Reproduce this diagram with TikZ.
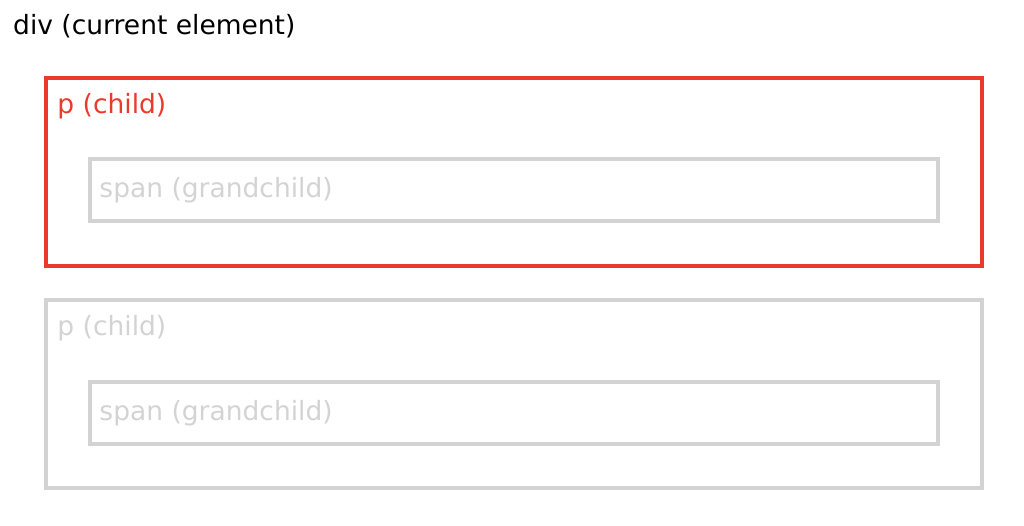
\documentclass[tikz,border=0pt]{standalone}
\usepackage{fontspec}
\setmainfont{DejaVu Sans}
\usetikzlibrary{positioning}
\definecolor{childred}{HTML}{EA3A2C}
\definecolor{fadegray}{HTML}{D3D3D3}

\begin{document}
\begin{tikzpicture}[x = 1pt, y = -1pt, font = \fontsize{26.5}{31}\selectfont,
	childbox/.style = {draw, line width = 3.5pt, minimum width = 936pt, minimum height = 188pt, inner sep = 0pt},
	spanbox/.style = {draw = fadegray, line width = 3.5pt, minimum width = 848pt, minimum height = 62pt, inner sep = 0pt},
	tag/.style = {anchor = west, inner sep = 0pt}]

	\useasboundingbox (0, 0) rectangle (1024, 526);

	% Title

	\node [tag] (title) at (13, 26) {div (current element)};

	% Children

	\node [childbox, draw = childred] (childA) at (514, 172) {};
	\node [childbox, draw = fadegray] (childB) at (514, 394) {};

	\node [tag, text = childred] (tagA) at ([xshift = 13pt, yshift = -30pt] childA.north west) {p (child)};
	\node [tag, text = fadegray] (tagB) at ([xshift = 13pt, yshift = -30pt] childB.north west) {p (child)};

	% Grandchildren

	\node [spanbox] (spanA) at (514, 190) {};
	\node [spanbox] (spanB) at (514, 413) {};

	\node [tag, text = fadegray, right = 11pt of spanA.west] (spantagA) {span (grandchild)};
	\node [tag, text = fadegray, right = 11pt of spanB.west] (spantagB) {span (grandchild)};

\end{tikzpicture}
\end{document}
